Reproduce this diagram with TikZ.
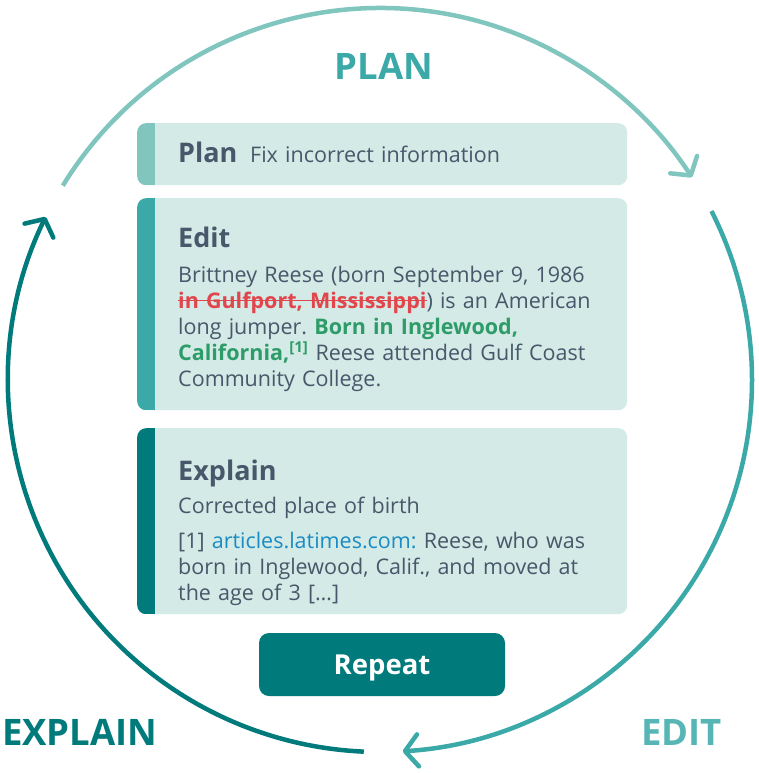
\documentclass[tikz,border=0pt]{standalone}
\usepackage{fontspec}
\setmainfont{Open Sans}
\usetikzlibrary{arrows.meta}

\definecolor{ink}{HTML}{46586A}
\definecolor{planteal}{HTML}{80C6BF}
\definecolor{editteal}{HTML}{3AA9A8}
\definecolor{explainteal}{HTML}{007A7B}
\definecolor{boxfill}{HTML}{D3EAE6}
\definecolor{strikered}{HTML}{E0464C}
\definecolor{addgreen}{HTML}{2E9C68}
\definecolor{linkblue}{HTML}{1A8CC4}

% struck-out text
\newcommand{\strikeout}[1]{\leavevmode\setbox0=\hbox{#1}\rlap{\rule[0.32em]{\wd0}{1.5pt}}\box0}
\frenchspacing

\begin{document}
\begin{tikzpicture}[x=1pt, y=-1pt,
    card/.style = {fill=boxfill, rounded corners=9pt, minimum width=490pt, inner sep=0pt, anchor=north west,
        path picture={\fill[#1, sharp corners] (path picture bounding box.north west) rectangle ([xshift=18pt]path picture bounding box.south west);}},
    head/.style = {anchor=base west, inner sep=0pt, text=ink, font=\fontsize{27}{32}\selectfont\bfseries},
    body/.style = {anchor=base west, inner sep=0pt, text=ink, text width=440pt, align=left, font=\fontsize{21.5}{26}\selectfont},
    stage/.style = {anchor=base west, inner sep=0pt, font=\fontsize{36.5}{40}\selectfont\bfseries},
    cyclearc/.style = {line width=4.5pt, -{Straight Barb[length=13pt, width=32pt, round]}}]
  \useasboundingbox (0,0) rectangle (759,773);

  % cards
  \node[card=planteal, minimum height=62pt] (planbox) at (137,123) {};
  \node[card=editteal, minimum height=212pt] (editbox) at (137,198) {};
  \node[card=explainteal, minimum height=186pt] (explainbox) at (137,428) {};
  \node[fill=explainteal, rounded corners=10pt, minimum width=246pt, minimum height=63pt,
    text height=20pt, text depth=0pt,
    text=white, font=\fontsize{27.5}{30}\selectfont\bfseries] (repeat) at (382,664.5) {Repeat};

  % card texts
  \node[head] (planhead) at (178,162) {Plan};
  \node[body] (plantext) at (250,162) {Fix incorrect information};
  \node[head] (edithead) at (178,247) {Edit};
  \node[body] (edittext) at (178,282) {Brittney Reese (born September 9, 1986\\
    {\color{strikered}\bfseries\strikeout{in Gulfport, Mississippi}}) is an American\\
    long jumper. {\color{addgreen}\bfseries Born in Inglewood,}\\
    {\color{addgreen}\bfseries California,\textsuperscript{[1]}} Reese attended Gulf Coast\\
    Community College.};
  \node[head] (explainhead) at (178,480) {Explain};
  \node[body] (explaintext) at (178,513) {Corrected place of birth};
  \node[body] (sourcetext) at (178,548) {[1] \textcolor{linkblue}{articles.latimes.com:} Reese, who was\\
    born in Inglewood, Calif., and moved at\\
    the age of 3 […]};

  % stage titles
  \node[stage, text=editteal, anchor=base] (plantitle) at (384,80) {PLAN};
  \node[stage, text=explainteal] (explaintitle) at (2,745) {EXPLAIN};
  \node[stage, text=editteal!85!white] (edittitle) at (641,745) {EDIT};

  % cycle
  \coordinate (hub) at (380,380);
  \draw[cyclearc, planteal] ([shift={(-148.5:372)}]hub) arc[start angle=-148.5, end angle=-33, radius=372];
  \draw[cyclearc, editteal] ([shift={(-27:372)}]hub) arc[start angle=-27, end angle=86.5, radius=372];
  \draw[cyclearc, explainteal] ([shift={(92.5:372)}]hub) arc[start angle=92.5, end angle=206, radius=372];
\end{tikzpicture}
\end{document}
